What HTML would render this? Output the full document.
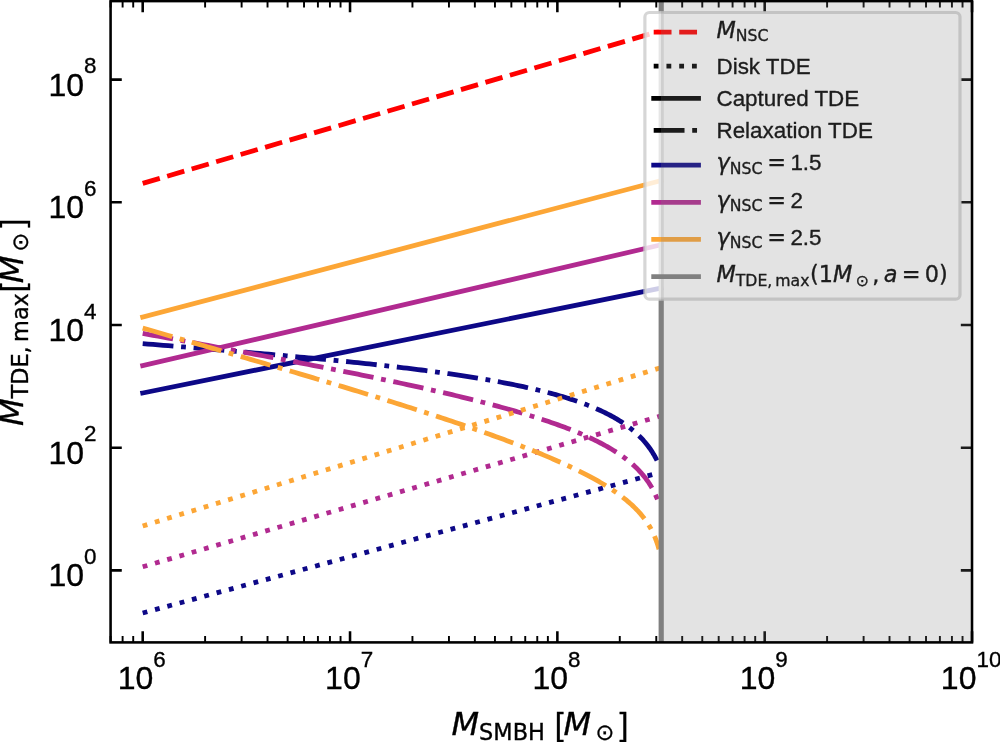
<!DOCTYPE html>
<html><head><meta charset="utf-8"><title>M_TDE,max vs M_SMBH</title>
<style>html,body{margin:0;padding:0;background:#fff;}body{width:1000px;height:742px;overflow:hidden;}</style>
</head><body>
<svg width="1000" height="742" viewBox="0 0 1000 742" style="display:block">
<style>text{stroke:#000;stroke-width:0.35px;}</style>
<rect x="0" y="0" width="1000" height="742" fill="#ffffff"/>
<defs><clipPath id="ax"><rect x="110.58" y="1.1" width="861.44" height="641.3"/></clipPath></defs>
<g clip-path="url(#ax)">
<path d="M142.7 613 L661 472.3" fill="none" stroke="#0d0887" stroke-width="4.81" stroke-linejoin="round" stroke-linecap="butt" stroke-dasharray="4.815,7.945"/>
<path d="M142.7 393 L661 288" fill="none" stroke="#0d0887" stroke-width="4.81" stroke-linejoin="round" stroke-linecap="square"/>
<path d="M142.7 343.62 L147.88 344.05 L153.03 344.47 L158.15 344.89 L163.25 345.31 L168.32 345.72 L173.36 346.14 L178.38 346.55 L183.38 346.96 L188.34 347.38 L193.29 347.79 L198.2 348.19 L203.09 348.6 L207.95 349.01 L212.79 349.41 L217.6 349.82 L222.39 350.22 L227.14 350.63 L231.88 351.03 L236.58 351.43 L241.26 351.83 L245.92 352.23 L250.55 352.63 L255.15 353.03 L259.73 353.43 L264.28 353.83 L268.8 354.23 L273.3 354.63 L277.77 355.03 L282.21 355.43 L286.63 355.83 L291.03 356.23 L295.4 356.63 L299.74 357.03 L304.05 357.43 L308.34 357.83 L312.61 358.23 L316.84 358.63 L321.05 359.04 L325.24 359.44 L329.4 359.84 L333.53 360.25 L337.64 360.66 L341.72 361.06 L345.77 361.47 L349.8 361.88 L353.8 362.29 L357.78 362.71 L361.73 363.12 L365.66 363.54 L369.55 363.96 L373.43 364.37 L377.27 364.8 L381.09 365.22 L384.89 365.64 L388.65 366.07 L392.4 366.5 L396.11 366.93 L399.8 367.36 L403.46 367.8 L407.1 368.23 L410.71 368.67 L414.3 369.12 L417.86 369.56 L421.39 370.01 L424.9 370.46 L428.38 370.91 L431.83 371.37 L435.26 371.83 L438.67 372.29 L442.04 372.75 L445.39 373.22 L448.72 373.69 L452.02 374.17 L455.29 374.64 L458.53 375.12 L461.75 375.61 L464.95 376.1 L468.12 376.59 L471.26 377.08 L474.38 377.58 L477.47 378.08 L480.53 378.59 L483.57 379.1 L486.58 379.62 L489.56 380.14 L492.52 380.66 L495.46 381.19 L498.36 381.72 L501.25 382.25 L504.1 382.79 L506.93 383.34 L509.73 383.89 L512.51 384.44 L515.26 385 L517.99 385.57 L520.68 386.13 L523.36 386.71 L526 387.29 L528.62 387.87 L531.22 388.46 L533.79 389.06 L536.33 389.66 L538.85 390.26 L541.34 390.87 L543.8 391.49 L546.24 392.11 L548.65 392.74 L551.04 393.37 L553.4 394.01 L555.73 394.66 L558.04 395.31 L560.32 395.97 L562.57 396.63 L564.8 397.3 L567.01 397.98 L569.18 398.66 L571.34 399.35 L573.46 400.05 L575.56 400.75 L577.63 401.46 L579.68 402.18 L581.7 402.91 L583.7 403.64 L585.66 404.37 L587.61 405.12 L589.52 405.87 L591.41 406.63 L593.28 407.4 L595.12 408.18 L596.93 408.96 L598.71 409.75 L600.47 410.55 L602.21 411.35 L603.92 412.16 L605.6 412.99 L607.25 413.81 L608.88 414.65 L610.49 415.5 L612.06 416.35 L613.62 417.21 L615.14 418.08 L616.64 418.95 L618.11 419.84 L619.56 420.73 L620.98 421.63 L622.38 422.54 L623.75 423.45 L625.09 424.37 L626.41 425.3 L627.7 426.24 L628.96 427.18 L630.2 428.14 L631.41 429.09 L632.6 430.06 L633.76 431.03 L634.89 432 L636 432.99 L637.08 433.97 L638.14 434.96 L639.17 435.96 L640.17 436.96 L641.15 437.96 L642.1 438.97 L643.03 439.97 L643.93 440.98 L644.8 441.99 L645.65 442.99 L646.47 444 L647.27 445 L648.04 446 L648.78 446.99 L649.5 447.97 L650.19 448.95 L650.85 449.91 L651.49 450.87 L652.1 451.81 L652.69 452.73 L653.25 453.64 L653.78 454.53 L654.29 455.4 L654.78 456.24 L655.23 457.06 L655.66 457.84 L656.07 458.6 L656.44 459.32 L656.8 460.01 L657.12 460.66 L657.42 461.27 L657.7 461.83 L657.94 462.35 L658.17 462.82 L658.36 463.24 L658.53 463.61 L658.67 463.92 L658.79 464.18 L658.88 464.39 L658.95 464.53 L658.99 464.62 L659 464.65" fill="none" stroke="#0d0887" stroke-width="4.81" stroke-linejoin="round" stroke-linecap="butt" stroke-dasharray="30.816,7.704,4.815,7.704"/>
<path d="M142.7 566.8 L661 415.9" fill="none" stroke="#b12a90" stroke-width="4.81" stroke-linejoin="round" stroke-linecap="butt" stroke-dasharray="4.815,7.945"/>
<path d="M142.7 365.6 L661 244.8" fill="none" stroke="#b12a90" stroke-width="4.81" stroke-linejoin="round" stroke-linecap="square"/>
<path d="M142.7 333.39 L147.88 334.34 L153.03 335.29 L158.15 336.24 L163.25 337.18 L168.32 338.11 L173.36 339.04 L178.38 339.97 L183.38 340.89 L188.34 341.81 L193.29 342.73 L198.2 343.64 L203.09 344.54 L207.95 345.45 L212.79 346.35 L217.6 347.24 L222.39 348.13 L227.14 349.02 L231.88 349.91 L236.58 350.79 L241.26 351.66 L245.92 352.54 L250.55 353.41 L255.15 354.28 L259.73 355.14 L264.28 356 L268.8 356.86 L273.3 357.71 L277.77 358.56 L282.21 359.41 L286.63 360.25 L291.03 361.1 L295.4 361.94 L299.74 362.77 L304.05 363.61 L308.34 364.44 L312.61 365.27 L316.84 366.09 L321.05 366.92 L325.24 367.74 L329.4 368.56 L333.53 369.37 L337.64 370.19 L341.72 371 L345.77 371.81 L349.8 372.62 L353.8 373.43 L357.78 374.23 L361.73 375.03 L365.66 375.83 L369.55 376.63 L373.43 377.43 L377.27 378.23 L381.09 379.02 L384.89 379.82 L388.65 380.61 L392.4 381.4 L396.11 382.19 L399.8 382.98 L403.46 383.77 L407.1 384.55 L410.71 385.34 L414.3 386.12 L417.86 386.91 L421.39 387.69 L424.9 388.47 L428.38 389.25 L431.83 390.03 L435.26 390.82 L438.67 391.6 L442.04 392.38 L445.39 393.15 L448.72 393.93 L452.02 394.71 L455.29 395.49 L458.53 396.27 L461.75 397.05 L464.95 397.83 L468.12 398.61 L471.26 399.39 L474.38 400.17 L477.47 400.95 L480.53 401.73 L483.57 402.51 L486.58 403.29 L489.56 404.07 L492.52 404.85 L495.46 405.64 L498.36 406.42 L501.25 407.21 L504.1 407.99 L506.93 408.78 L509.73 409.57 L512.51 410.36 L515.26 411.15 L517.99 411.94 L520.68 412.74 L523.36 413.53 L526 414.33 L528.62 415.13 L531.22 415.93 L533.79 416.73 L536.33 417.53 L538.85 418.34 L541.34 419.15 L543.8 419.96 L546.24 420.77 L548.65 421.58 L551.04 422.4 L553.4 423.22 L555.73 424.04 L558.04 424.87 L560.32 425.7 L562.57 426.53 L564.8 427.36 L567.01 428.2 L569.18 429.04 L571.34 429.88 L573.46 430.73 L575.56 431.58 L577.63 432.43 L579.68 433.29 L581.7 434.15 L583.7 435.01 L585.66 435.88 L587.61 436.76 L589.52 437.63 L591.41 438.52 L593.28 439.4 L595.12 440.29 L596.93 441.19 L598.71 442.09 L600.47 442.99 L602.21 443.9 L603.92 444.82 L605.6 445.74 L607.25 446.67 L608.88 447.6 L610.49 448.54 L612.06 449.48 L613.62 450.43 L615.14 451.38 L616.64 452.34 L618.11 453.31 L619.56 454.28 L620.98 455.26 L622.38 456.25 L623.75 457.24 L625.09 458.24 L626.41 459.24 L627.7 460.26 L628.96 461.27 L630.2 462.3 L631.41 463.33 L632.6 464.37 L633.76 465.41 L634.89 466.46 L636 467.52 L637.08 468.58 L638.14 469.65 L639.17 470.72 L640.17 471.8 L641.15 472.89 L642.1 473.98 L643.03 475.07 L643.93 476.16 L644.8 477.26 L645.65 478.37 L646.47 479.47 L647.27 480.57 L648.04 481.68 L648.78 482.78 L649.5 483.88 L650.19 484.97 L650.85 486.06 L651.49 487.14 L652.1 488.22 L652.69 489.28 L653.25 490.32 L653.78 491.36 L654.29 492.37 L654.78 493.36 L655.23 494.33 L655.66 495.27 L656.07 496.18 L656.44 497.05 L656.8 497.89 L657.12 498.68 L657.42 499.43 L657.7 500.13 L657.94 500.78 L658.17 501.37 L658.36 501.9 L658.53 502.37 L658.67 502.77 L658.79 503.1 L658.88 503.37 L658.95 503.55 L658.99 503.67 L659 503.7" fill="none" stroke="#b12a90" stroke-width="4.81" stroke-linejoin="round" stroke-linecap="butt" stroke-dasharray="30.816,7.704,4.815,7.704"/>
<path d="M142.7 526 L661 367.6" fill="none" stroke="#fca636" stroke-width="4.81" stroke-linejoin="round" stroke-linecap="butt" stroke-dasharray="4.815,7.945"/>
<path d="M142.7 317 L661 180.6" fill="none" stroke="#fca636" stroke-width="4.81" stroke-linejoin="round" stroke-linecap="square"/>
<path d="M142.7 328.07 L147.88 329.56 L153.03 331.05 L158.15 332.53 L163.25 334 L168.32 335.47 L173.36 336.93 L178.38 338.38 L183.38 339.82 L188.34 341.26 L193.29 342.69 L198.2 344.12 L203.09 345.54 L207.95 346.95 L212.79 348.35 L217.6 349.75 L222.39 351.14 L227.14 352.53 L231.88 353.9 L236.58 355.28 L241.26 356.64 L245.92 358 L250.55 359.35 L255.15 360.7 L259.73 362.04 L264.28 363.38 L268.8 364.71 L273.3 366.03 L277.77 367.35 L282.21 368.66 L286.63 369.96 L291.03 371.26 L295.4 372.56 L299.74 373.84 L304.05 375.13 L308.34 376.4 L312.61 377.67 L316.84 378.94 L321.05 380.2 L325.24 381.46 L329.4 382.71 L333.53 383.95 L337.64 385.19 L341.72 386.42 L345.77 387.65 L349.8 388.88 L353.8 390.1 L357.78 391.31 L361.73 392.52 L365.66 393.72 L369.55 394.92 L373.43 396.12 L377.27 397.31 L381.09 398.49 L384.89 399.68 L388.65 400.85 L392.4 402.02 L396.11 403.19 L399.8 404.35 L403.46 405.51 L407.1 406.67 L410.71 407.82 L414.3 408.96 L417.86 410.11 L421.39 411.25 L424.9 412.38 L428.38 413.51 L431.83 414.64 L435.26 415.76 L438.67 416.88 L442.04 417.99 L445.39 419.1 L448.72 420.21 L452.02 421.31 L455.29 422.41 L458.53 423.51 L461.75 424.61 L464.95 425.7 L468.12 426.78 L471.26 427.87 L474.38 428.95 L477.47 430.02 L480.53 431.1 L483.57 432.17 L486.58 433.24 L489.56 434.3 L492.52 435.37 L495.46 436.43 L498.36 437.48 L501.25 438.54 L504.1 439.59 L506.93 440.64 L509.73 441.69 L512.51 442.73 L515.26 443.77 L517.99 444.81 L520.68 445.85 L523.36 446.89 L526 447.92 L528.62 448.95 L531.22 449.98 L533.79 451.01 L536.33 452.04 L538.85 453.06 L541.34 454.08 L543.8 455.1 L546.24 456.12 L548.65 457.14 L551.04 458.16 L553.4 459.18 L555.73 460.19 L558.04 461.21 L560.32 462.22 L562.57 463.23 L564.8 464.25 L567.01 465.26 L569.18 466.27 L571.34 467.28 L573.46 468.29 L575.56 469.3 L577.63 470.31 L579.68 471.32 L581.7 472.33 L583.7 473.34 L585.66 474.36 L587.61 475.37 L589.52 476.38 L591.41 477.39 L593.28 478.41 L595.12 479.42 L596.93 480.44 L598.71 481.46 L600.47 482.48 L602.21 483.5 L603.92 484.53 L605.6 485.55 L607.25 486.58 L608.88 487.61 L610.49 488.64 L612.06 489.68 L613.62 490.71 L615.14 491.76 L616.64 492.8 L618.11 493.85 L619.56 494.9 L620.98 495.95 L622.38 497.01 L623.75 498.07 L625.09 499.14 L626.41 500.21 L627.7 501.29 L628.96 502.37 L630.2 503.45 L631.41 504.54 L632.6 505.64 L633.76 506.74 L634.89 507.85 L636 508.96 L637.08 510.08 L638.14 511.2 L639.17 512.33 L640.17 513.46 L641.15 514.61 L642.1 515.75 L643.03 516.9 L643.93 518.06 L644.8 519.22 L645.65 520.39 L646.47 521.56 L647.27 522.74 L648.04 523.92 L648.78 525.1 L649.5 526.28 L650.19 527.47 L650.85 528.65 L651.49 529.84 L652.1 531.02 L652.69 532.19 L653.25 533.36 L653.78 534.52 L654.29 535.66 L654.78 536.8 L655.23 537.91 L655.66 539 L656.07 540.06 L656.44 541.1 L656.8 542.1 L657.12 543.05 L657.42 543.97 L657.7 544.83 L657.94 545.63 L658.17 546.37 L658.36 547.03 L658.53 547.63 L658.67 548.14 L658.79 548.57 L658.88 548.9 L658.95 549.14 L658.99 549.29 L659 549.34" fill="none" stroke="#fca636" stroke-width="4.81" stroke-linejoin="round" stroke-linecap="butt" stroke-dasharray="30.816,7.704,4.815,7.704"/>
<path d="M142.7 183.4 L661 30.7" fill="none" stroke="#ff0000" stroke-width="4.81" stroke-linejoin="round" stroke-linecap="butt" stroke-dasharray="17.816,7.704"/>
<line x1="661.2" y1="1.1" x2="661.2" y2="642.4" stroke="#808080" stroke-width="5.2"/>
</g>
<path d="M142.7 642.4V631.2M142.7 1.1V12.3M350.03 642.4V631.2M350.03 1.1V12.3M557.36 642.4V631.2M557.36 1.1V12.3M764.69 642.4V631.2M764.69 1.1V12.3M972.02 642.4V631.2M972.02 1.1V12.3M110.58 570.4H121.78M972.02 570.4H960.82M110.58 447.7H121.78M972.02 447.7H960.82M110.58 325H121.78M972.02 325H960.82M110.58 202.3H121.78M972.02 202.3H960.82M110.58 79.6H121.78M972.02 79.6H960.82" stroke="#000" stroke-width="2.56" fill="none"/>
<path d="M110.58 642.4V636M110.58 1.1V7.5M122.61 642.4V636M122.61 1.1V7.5M133.21 642.4V636M133.21 1.1V7.5M205.11 642.4V636M205.11 1.1V7.5M241.62 642.4V636M241.62 1.1V7.5M267.53 642.4V636M267.53 1.1V7.5M287.62 642.4V636M287.62 1.1V7.5M304.03 642.4V636M304.03 1.1V7.5M317.91 642.4V636M317.91 1.1V7.5M329.94 642.4V636M329.94 1.1V7.5M340.54 642.4V636M340.54 1.1V7.5M412.44 642.4V636M412.44 1.1V7.5M448.95 642.4V636M448.95 1.1V7.5M474.86 642.4V636M474.86 1.1V7.5M494.95 642.4V636M494.95 1.1V7.5M511.36 642.4V636M511.36 1.1V7.5M525.24 642.4V636M525.24 1.1V7.5M537.27 642.4V636M537.27 1.1V7.5M547.87 642.4V636M547.87 1.1V7.5M619.77 642.4V636M619.77 1.1V7.5M656.28 642.4V636M656.28 1.1V7.5M682.19 642.4V636M682.19 1.1V7.5M702.28 642.4V636M702.28 1.1V7.5M718.69 642.4V636M718.69 1.1V7.5M732.57 642.4V636M732.57 1.1V7.5M744.6 642.4V636M744.6 1.1V7.5M755.2 642.4V636M755.2 1.1V7.5M827.1 642.4V636M827.1 1.1V7.5M863.61 642.4V636M863.61 1.1V7.5M889.52 642.4V636M889.52 1.1V7.5M909.61 642.4V636M909.61 1.1V7.5M926.02 642.4V636M926.02 1.1V7.5M939.9 642.4V636M939.9 1.1V7.5M951.93 642.4V636M951.93 1.1V7.5M962.53 642.4V636M962.53 1.1V7.5" stroke="#000" stroke-width="1.92" fill="none"/>
<rect x="644.9" y="12.5" width="315.1" height="286.7" rx="4.48" ry="4.48" fill="#ffffff" fill-opacity="0.8" stroke="#cccccc" stroke-opacity="0.8" stroke-width="3.2"/>
<path d="M653.7 32.2 L698.5 32.2" fill="none" stroke="#ff0000" stroke-width="4.81" stroke-linejoin="round" stroke-linecap="butt" stroke-dasharray="17.816,7.704"/>
<path d="M653.7 66.2 L698.5 66.2" fill="none" stroke="#000" stroke-width="4.81" stroke-linejoin="round" stroke-linecap="butt" stroke-dasharray="4.815,7.945"/>
<path d="M653.7 98.3 L698.5 98.3" fill="none" stroke="#000" stroke-width="4.81" stroke-linejoin="round" stroke-linecap="square"/>
<path d="M653.7 130.4 L698.5 130.4" fill="none" stroke="#000" stroke-width="4.81" stroke-linejoin="round" stroke-linecap="butt" stroke-dasharray="30.816,7.704,4.815,7.704"/>
<path d="M653.7 165.1 L698.5 165.1" fill="none" stroke="#0d0887" stroke-width="4.81" stroke-linejoin="round" stroke-linecap="square"/>
<path d="M653.7 202.4 L698.5 202.4" fill="none" stroke="#b12a90" stroke-width="4.81" stroke-linejoin="round" stroke-linecap="square"/>
<path d="M653.7 239.4 L698.5 239.4" fill="none" stroke="#fca636" stroke-width="4.81" stroke-linejoin="round" stroke-linecap="square"/>
<path d="M653.7 276.6 L698.5 276.6" fill="none" stroke="#808080" stroke-width="4.81" stroke-linejoin="round" stroke-linecap="square"/>
<text transform="translate(716.5 38.81)" fill="#000"><tspan x="0" y="-0.96875" style="font-style: oblique; font-size: 22.4px; font-family: 'DejaVu Sans'">M</tspan><tspan x="19.304993" y="2.640625" style="font-size: 15.68px; font-family: 'DejaVu Sans'">N</tspan><tspan x="31.021277" y="2.640625" style="font-size: 15.68px; font-family: 'DejaVu Sans'">S</tspan><tspan x="40.963293" y="2.640625" style="font-size: 15.68px; font-family: 'DejaVu Sans'">C</tspan></text>
<text x="716.5" y="73.54" fill="#000" style="font-size:22.4px;font-family:'Liberation Sans'">Disk TDE</text>
<text x="716.5" y="105.64" fill="#000" style="font-size:22.4px;font-family:'Liberation Sans'">Captured TDE</text>
<text x="716.5" y="137.74" fill="#000" style="font-size:22.4px;font-family:'Liberation Sans'">Relaxation TDE</text>
<text transform="translate(716.5 171.3)" fill="#000"><tspan x="0" y="-0.859375" style="font-style: oblique; font-size: 22.4px; font-family: 'DejaVu Sans'">γ</tspan><tspan x="13.241455" y="2.75" style="font-size: 15.68px; font-family: 'DejaVu Sans'">N</tspan><tspan x="24.957739" y="2.75" style="font-size: 15.68px; font-family: 'DejaVu Sans'">S</tspan><tspan x="34.899756" y="2.75" style="font-size: 15.68px; font-family: 'DejaVu Sans'">C</tspan><tspan x="50.796729" y="-0.859375" style="font-size: 22.4px; font-family: 'DejaVu Sans'">=</tspan><tspan x="73.903723" y="-0.859375" style="font-size: 22.4px; font-family: 'Liberation Sans'">1</tspan><tspan x="86.347632" y="-0.859375" style="font-size: 22.4px; font-family: 'Liberation Sans'">.</tspan><tspan x="92.564124" y="-0.859375" style="font-size: 22.4px; font-family: 'Liberation Sans'">5</tspan></text>
<text transform="translate(716.5 208.38)" fill="#000"><tspan x="0" y="-0.640625" style="font-style: oblique; font-size: 22.4px; font-family: 'DejaVu Sans'">γ</tspan><tspan x="13.241455" y="2.96875" style="font-size: 15.68px; font-family: 'DejaVu Sans'">N</tspan><tspan x="24.957739" y="2.96875" style="font-size: 15.68px; font-family: 'DejaVu Sans'">S</tspan><tspan x="34.899756" y="2.96875" style="font-size: 15.68px; font-family: 'DejaVu Sans'">C</tspan><tspan x="50.796729" y="-0.640625" style="font-size: 22.4px; font-family: 'DejaVu Sans'">=</tspan><tspan x="73.903723" y="-0.640625" style="font-size: 22.4px; font-family: 'Liberation Sans'">2</tspan></text>
<text transform="translate(716.5 245.38)" fill="#000"><tspan x="0" y="-0.640625" style="font-style: oblique; font-size: 22.4px; font-family: 'DejaVu Sans'">γ</tspan><tspan x="13.241455" y="2.96875" style="font-size: 15.68px; font-family: 'DejaVu Sans'">N</tspan><tspan x="24.957739" y="2.96875" style="font-size: 15.68px; font-family: 'DejaVu Sans'">S</tspan><tspan x="34.899756" y="2.96875" style="font-size: 15.68px; font-family: 'DejaVu Sans'">C</tspan><tspan x="50.796729" y="-0.640625" style="font-size: 22.4px; font-family: 'DejaVu Sans'">=</tspan><tspan x="73.903723" y="-0.640625" style="font-size: 22.4px; font-family: 'Liberation Sans'">2</tspan><tspan x="86.347632" y="-0.640625" style="font-size: 22.4px; font-family: 'Liberation Sans'">.</tspan><tspan x="92.564124" y="-0.640625" style="font-size: 22.4px; font-family: 'Liberation Sans'">5</tspan></text>
<text transform="translate(716.5 282.35)" fill="#000"><tspan x="0" y="-0.3125" style="font-style: oblique; font-size: 22.4px; font-family: 'DejaVu Sans'">M</tspan><tspan x="116.549512" y="-0.3125" style="font-style: oblique; font-size: 22.4px; font-family: 'DejaVu Sans'">M</tspan><tspan x="167.153955" y="-0.3125" style="font-style: oblique; font-size: 22.4px; font-family: 'DejaVu Sans'">a</tspan><tspan x="19.304993" y="3.296875" style="font-size: 15.68px; font-family: 'DejaVu Sans'">T</tspan><tspan x="28.872272" y="3.296875" style="font-size: 15.68px; font-family: 'DejaVu Sans'">D</tspan><tspan x="40.932703" y="3.296875" style="font-size: 15.68px; font-family: 'DejaVu Sans'">E</tspan><tspan x="50.828833" y="3.296875" style="font-size: 15.68px; font-family: 'DejaVu Sans'">,</tspan><tspan x="58.858923" y="3.296875" style="font-size: 15.68px; font-family: 'DejaVu Sans'">m</tspan><tspan x="74.116095" y="3.296875" style="font-size: 15.68px; font-family: 'DejaVu Sans'">a</tspan><tspan x="83.713965" y="3.296875" style="font-size: 15.68px; font-family: 'DejaVu Sans'">x</tspan><tspan x="138.905939" y="3.296875" style="font-size: 15.68px; font-family: 'DejaVu Sans'">⊙</tspan><tspan x="93.584546" y="-0.3125" style="font-size: 22.4px; font-family: 'DejaVu Sans'">(</tspan><tspan x="102.313855" y="-0.3125" style="font-size: 22.4px; font-family: 'DejaVu Sans'">1</tspan><tspan x="155.682397" y="-0.3125" style="font-size: 22.4px; font-family: 'DejaVu Sans'">,</tspan><tspan x="185.22439" y="-0.3125" style="font-size: 22.4px; font-family: 'DejaVu Sans'">=</tspan><tspan x="208.331384" y="-0.3125" style="font-size: 22.4px; font-family: 'DejaVu Sans'">0</tspan><tspan x="222.567041" y="-0.3125" style="font-size: 22.4px; font-family: 'DejaVu Sans'">)</tspan></text>
<rect x="661" y="1.1" width="311.02" height="641.3" fill="#808080" fill-opacity="0.22"/>
<rect x="110.58" y="1.1" width="861.44" height="641.3" fill="none" stroke="#000" stroke-width="2.56"/>
<text x="141.8" y="689.4" text-anchor="middle" style="font-size:32px;font-family:'Liberation Sans'">10<tspan dy="-22.4" style="font-size:22.4px">6</tspan></text>
<text x="349.13" y="689.4" text-anchor="middle" style="font-size:32px;font-family:'Liberation Sans'">10<tspan dy="-22.4" style="font-size:22.4px">7</tspan></text>
<text x="556.46" y="689.4" text-anchor="middle" style="font-size:32px;font-family:'Liberation Sans'">10<tspan dy="-22.4" style="font-size:22.4px">8</tspan></text>
<text x="763.79" y="689.4" text-anchor="middle" style="font-size:32px;font-family:'Liberation Sans'">10<tspan dy="-22.4" style="font-size:22.4px">9</tspan></text>
<text x="971.12" y="689.4" text-anchor="middle" style="font-size:32px;font-family:'Liberation Sans'">10<tspan dy="-22.4" style="font-size:22.4px">10</tspan></text>
<text x="96.5" y="586.3" text-anchor="end" style="font-size:32px;font-family:'Liberation Sans'">10<tspan dy="-22.4" style="font-size:22.4px">0</tspan></text>
<text x="96.5" y="463.6" text-anchor="end" style="font-size:32px;font-family:'Liberation Sans'">10<tspan dy="-22.4" style="font-size:22.4px">2</tspan></text>
<text x="96.5" y="340.9" text-anchor="end" style="font-size:32px;font-family:'Liberation Sans'">10<tspan dy="-22.4" style="font-size:22.4px">4</tspan></text>
<text x="96.5" y="218.2" text-anchor="end" style="font-size:32px;font-family:'Liberation Sans'">10<tspan dy="-22.4" style="font-size:22.4px">6</tspan></text>
<text x="96.5" y="95.5" text-anchor="end" style="font-size:32px;font-family:'Liberation Sans'">10<tspan dy="-22.4" style="font-size:22.4px">8</tspan></text>
<text transform="translate(451.5 735.67)"><tspan x="0" y="-0.671875" style="font-style: oblique; font-size: 32px; font-family: 'DejaVu Sans'">M</tspan><tspan x="112.021875" y="-0.671875" style="font-style: oblique; font-size: 32px; font-family: 'DejaVu Sans'">M</tspan><tspan x="27.609375" y="4.578125" style="font-size: 22.4px; font-family: 'DejaVu Sans'">S</tspan><tspan x="41.828125" y="4.578125" style="font-size: 22.4px; font-family: 'DejaVu Sans'">M</tspan><tspan x="61.154687" y="4.578125" style="font-size: 22.4px; font-family: 'DejaVu Sans'">B</tspan><tspan x="76.521875" y="4.578125" style="font-size: 22.4px; font-family: 'DejaVu Sans'">H</tspan><tspan x="143.995312" y="4.578125" style="font-size: 22.4px; font-family: 'DejaVu Sans'">⊙</tspan><tspan x="94.240625" y="-0.671875" style="font-size: 32px; font-family: 'Liberation Sans'"> </tspan><tspan x="103.13125" y="-0.671875" style="font-size: 32px; font-family: 'Liberation Sans'">[</tspan><tspan x="168.003125" y="-0.671875" style="font-size: 32px; font-family: 'Liberation Sans'">]</tspan></text>
<text transform="translate(23.77 426.1) rotate(-90)"><tspan x="0" y="-0.671875" style="font-style: oblique; font-size: 32px; font-family: 'DejaVu Sans'">M</tspan><tspan x="142.746875" y="-0.671875" style="font-style: oblique; font-size: 32px; font-family: 'DejaVu Sans'">M</tspan><tspan x="27.609375" y="4.578125" style="font-size: 22.4px; font-family: 'DejaVu Sans'">T</tspan><tspan x="41.292187" y="4.578125" style="font-size: 22.4px; font-family: 'DejaVu Sans'">D</tspan><tspan x="58.540625" y="4.578125" style="font-size: 22.4px; font-family: 'DejaVu Sans'">E</tspan><tspan x="72.69375" y="4.578125" style="font-size: 22.4px; font-family: 'DejaVu Sans'">,</tspan><tspan x="84.178125" y="4.578125" style="font-size: 22.4px; font-family: 'DejaVu Sans'">m</tspan><tspan x="105.998437" y="4.578125" style="font-size: 22.4px; font-family: 'DejaVu Sans'">a</tspan><tspan x="119.725" y="4.578125" style="font-size: 22.4px; font-family: 'DejaVu Sans'">x</tspan><tspan x="174.720312" y="4.578125" style="font-size: 22.4px; font-family: 'DejaVu Sans'">⊙</tspan><tspan x="133.85625" y="-0.671875" style="font-size: 32px; font-family: 'Liberation Sans'">[</tspan><tspan x="198.728125" y="-0.671875" style="font-size: 32px; font-family: 'Liberation Sans'">]</tspan></text>
</svg>
</body></html>
